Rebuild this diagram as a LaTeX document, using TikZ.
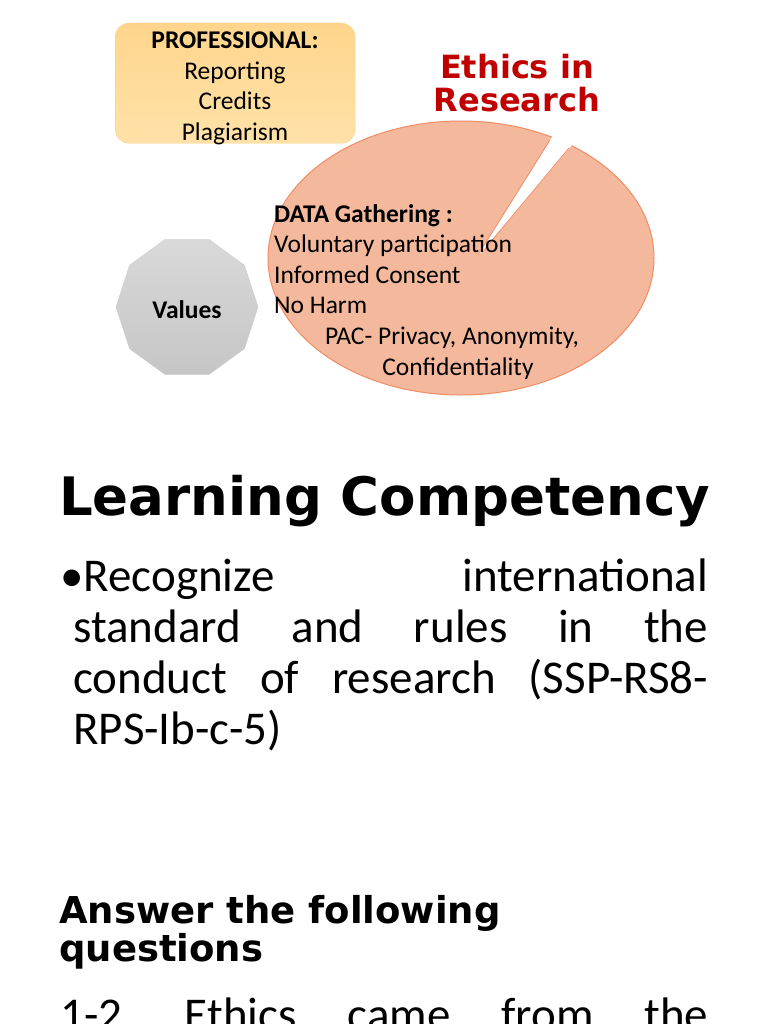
\documentclass[tikz,border=0pt]{standalone}
\usepackage{fontspec}
\setmainfont{Carlito}
\newfontfamily\djfont{DejaVu Sans}
\usetikzlibrary{shapes.geometric}
\definecolor{eth}{HTML}{C00000}
\definecolor{pie}{HTML}{F4B89C}
\definecolor{pied}{HTML}{F08C64}
\definecolor{proA}{HTML}{FFD58C}
\definecolor{proB}{HTML}{FFE2A8}
\tikzset{
  body/.style={font=\fontsize{25.5}{30.5}\selectfont, inner sep=0pt},
  head/.style={inner sep=0pt, anchor=base west},
}
\begin{document}
\begin{tikzpicture}[x=1pt,y=-1pt]
\useasboundingbox[fill=white] (0,0) rectangle (768,1024);
% professional box
\node[draw=proA!90!orange, rounded corners=14pt, top color=proA, bottom color=proB, minimum width=240pt, minimum height=120pt, anchor=north west] (pro) at (115,23) {};
\node[body, align=center, anchor=north] (protext) at (235,32) {\textbf{PROFESSIONAL:}\\Reporting\\Credits\\Plagiarism};
% title
\node[font=\djfont\bfseries\fontsize{32}{33}\selectfont, text=eth, align=center, inner sep=0pt, anchor=north] (title) at (517,54) {Ethics in\\Research};
% pie
\node[ellipse, draw=pied, fill=pie, line width=1pt, minimum width=386pt, minimum height=274pt] (pie) at (461,258) {};
\coordinate (gapL) at (478,255);
\coordinate (gapR) at (484,250);
\fill[white] (gapL) -- (562,121) -- (582,133) -- (gapR) -- cycle;
\draw[pied, line width=0.8pt] (gapL) -- (550,140);
\draw[pied, line width=0.8pt] (gapR) -- (569,148);
% values
\node[regular polygon, regular polygon sides=10, minimum size=142pt, top color=gray!30, bottom color=gray!45, draw=gray!40] (val) at (187,307) {};
\node[font=\fontsize{25.5}{30}\selectfont\bfseries, inner sep=0pt] (valtext) at (187,310) {Values};
% data text
\node[body, align=left, anchor=north west] (data) at (274,204) {\textbf{DATA Gathering :}\\Voluntary participation\\Informed Consent\\No Harm};
\node[body, align=center, anchor=north] (pac) at (452,327) {PAC- Privacy, Anonymity,\\\hspace*{12pt}Confidentiality};
% learning competency
\node[head, font=\djfont\bfseries\fontsize{53}{56}\selectfont] (lc) at (59,515) {Learning Competency};
\node[inner sep=0pt, anchor=north west] (bul) at (60,559) {\parbox{648pt}{\fontsize{47}{51}\selectfont\hangindent=13pt\hangafter=1\noindent
•Recognize\hfill international\linebreak standard\hfill and\hfill rules\hfill in\hfill the\linebreak conduct\hfill of\hfill research\hfill (SSP-RS8-\linebreak RPS-Ib-c-5)}};
\node[font=\djfont\bfseries\fontsize{37}{38}\selectfont, inner sep=0pt, align=left, anchor=north west] (ans) at (59,895) {Answer the following\\questions};
\node[inner sep=0pt, anchor=north west] (q) at (60,998) {\parbox{648pt}{\fontsize{47}{51}\selectfont\noindent 1-2.\hfill Ethics\hfill came\hfill from\hfill the}};
\end{tikzpicture}
\end{document}
